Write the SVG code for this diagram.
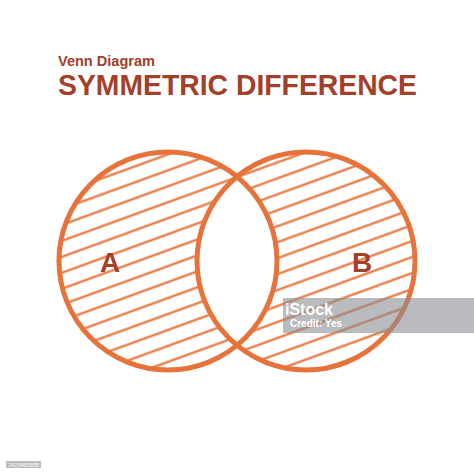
<svg xmlns="http://www.w3.org/2000/svg" width="474" height="474" viewBox="0 0 474 474">
<style>
.title{font-family:"Liberation Sans",Arial,sans-serif;font-weight:bold;fill:#a3402a}
.ring{fill:none;stroke:#e8733a;stroke-width:5}
.lbl{font-family:"Liberation Sans",Arial,sans-serif;font-weight:bold;font-size:28px;fill:#a3402a}
.wm{font-family:"Liberation Sans",Arial,sans-serif;font-weight:bold;fill:#ffffff}
</style>
<defs>
<pattern id="hatch" patternUnits="userSpaceOnUse" width="15" height="15" patternTransform="rotate(-20)">
<line x1="0" y1="7.5" x2="15" y2="7.5" stroke="#e8733a" stroke-width="2.2"/>
</pattern>
</defs>
<rect width="474" height="474" fill="#ffffff"/>
<text class="title" x="58" y="66" font-size="15" textLength="97" lengthAdjust="spacingAndGlyphs">Venn Diagram</text>
<text class="title" x="58" y="95" font-size="30" textLength="359" lengthAdjust="spacingAndGlyphs">SYMMETRIC DIFFERENCE</text>
<g id="hatching">
<circle cx="168" cy="261" r="109" fill="url(#hatch)"/>
<circle cx="306" cy="261" r="109" fill="url(#hatch)"/>
<path d="M237,176.6 A109,109 0 0,1 237,345.4 A109,109 0 0,1 237,176.6 Z" fill="#ffffff"/>
</g>
<g id="circle-a">
<circle class="ring" cx="168" cy="261" r="109"/>
<text class="lbl" x="110" y="272" text-anchor="middle">A</text>
</g>
<g id="circle-b">
<circle class="ring" cx="306" cy="261" r="109"/>
<text class="lbl" x="362" y="272" text-anchor="middle">B</text>
</g>
<g id="connectors"/>
<g id="watermark">
<rect x="283" y="298" width="191" height="35" fill="#8a8d92" fill-opacity="0.6"/>
<text class="wm" x="285" y="315" font-size="16">iStock</text>
<text class="wm" x="290" y="327" font-size="10">Credit: Yes</text>
<rect x="6" y="461" width="35" height="7" fill="#b9bbbe"/>
<text x="23.5" y="466.5" font-size="5.5" text-anchor="middle" font-family="Liberation Sans, Arial, sans-serif" fill="#ffffff">1423483358</text>
</g>
</svg>
